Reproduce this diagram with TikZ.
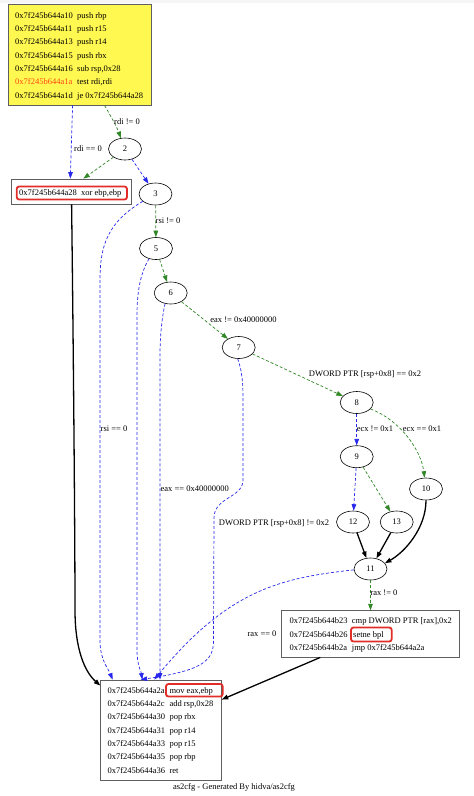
\documentclass[tikz,border=0pt]{standalone}
\usepackage{fontspec}
\setmainfont{Liberation Serif}
\usetikzlibrary{shapes.geometric,arrows.meta}
\definecolor{egreen}{RGB}{50,135,40}
\definecolor{eblue}{RGB}{40,40,235}
\definecolor{byellow}{RGB}{255,248,80}
\definecolor{hlred}{RGB}{225,45,40}
\definecolor{addrred}{RGB}{255,70,20}
\definecolor{boxgray}{RGB}{95,95,95}
\newcommand{\fs}{\fontsize{8.5}{10}\selectfont}
\begin{document}
\begin{tikzpicture}[x=1pt,y=-1pt,
  blk/.style={draw=boxgray,line width=0.8pt,inner sep=0pt},
  bb/.style={ellipse,draw,line width=0.6pt,minimum width=33pt,minimum height=22pt,inner sep=0pt,font=\fs},
  tl/.style={anchor=base west,inner sep=0pt,font=\fs},
  lbl/.style={inner sep=0pt,font=\fs},
  tip/.style={-{Triangle[length=6.5pt,width=4.6pt]}},
  ge/.style={tip,draw=egreen,line width=0.7pt,dash pattern=on 3pt off 2pt},
  be/.style={tip,draw=eblue,line width=0.7pt,dash pattern=on 3pt off 2pt},
  ke/.style={tip,draw=black,line width=1.3pt},
  hl/.style={draw=hlred,line width=1.8pt,rounded corners=2.5pt}
]
\useasboundingbox (0,0) rectangle (474,796);
\fill[gray!8] (0,0) rectangle (474,3);

% blocks
\node[blk,fill=byellow,minimum width=143pt,minimum height=101pt] (b0) at (79.5,54.5) {};
\node[blk,minimum width=120pt,minimum height=25pt] (bxor) at (71.7,191.5) {};
\node[blk,minimum width=177.3pt,minimum height=46.3pt] (brax) at (370.35,633.85) {};
\node[blk,minimum width=120.6pt,minimum height=100pt] (bend) at (161,730) {};

% block texts
\foreach \y/\a/\i [count=\k] in {15/0x7f245b644a10/push rbp,28.3/0x7f245b644a11/push r15,41.7/0x7f245b644a13/push r14,55/0x7f245b644a15/push rbx,68.3/0x7f245b644a16/{sub rsp,0x28}}{
  \node[tl] (b0a\k) at (15,\y+3) {\a};
  \node[tl] (b0i\k) at (77,\y+3) {\i};
}
\node[tl,text=addrred] (b0a6) at (15,84.7) {0x7f245b644a1a};
\node[tl] (b0i6) at (77,84.7) {test rdi,rdi};
\node[tl] (b0a7) at (15,98) {0x7f245b644a1d};
\node[tl] (b0i7) at (77,98) {je 0x7f245b644a28};

\draw[hl] (16.7,186.5) rectangle (127,199.5);
\node[tl] (bxa) at (19,195.5) {0x7f245b644a28};
\node[tl] (bxi) at (81,195.5) {xor ebp,ebp};

\draw[hl] (351,627.5) rectangle (391.7,641.5);
\node[tl] (bra1) at (289.3,623.7) {0x7f245b644b23};
\node[tl] (bri1) at (351.7,623.7) {cmp DWORD PTR [rax],0x2};
\node[tl] (bra2) at (289.3,637) {0x7f245b644b26};
\node[tl] (bri2) at (353,637) {setne bpl};
\node[tl] (bra3) at (289.3,650.3) {0x7f245b644b2a};
\node[tl] (bri3) at (351.7,650.3) {jmp 0x7f245b644a2a};

\draw[hl] (166,684) rectangle (222.7,696.5);
\foreach \y/\a/\i [count=\k] in {690/0x7f245b644a2a/{mov eax,ebp},703.3/0x7f245b644a2c/{add rsp,0x28},716.7/0x7f245b644a30/pop rbx,730/0x7f245b644a31/pop r14,743.3/0x7f245b644a33/pop r15,756.7/0x7f245b644a35/pop rbp,770/0x7f245b644a36/ret}{
  \node[tl] (bea\k) at (107.3,\y+3) {\a};
  \node[tl] (bei\k) at (169.3,\y+3) {\i};
}

% ellipse nodes
\node[bb] (n2) at (125,149) {2};
\node[bb] (n3) at (155.5,194) {3};
\node[bb] (n5) at (156,248.5) {5};
\node[bb] (n6) at (170.7,293) {6};
\node[bb] (n7) at (238.7,347.5) {7};
\node[bb] (n8) at (356.7,402.5) {8};
\node[bb] (n9) at (356.7,456.7) {9};
\node[bb] (n10) at (426,489) {10};
\node[bb] (n12) at (353,522) {12};
\node[bb] (n13) at (396.7,522) {13};
\node[bb] (n11) at (370.5,569) {11};

% edges
\draw[be] ([xshift=65pt]b0.south west) -- ([xshift=59pt]bxor.north west);
\draw[ge] ([xshift=97pt]b0.south west) .. controls (110,115) and (116,125) .. (n2);
\draw[ge] (n2) -- ([xshift=72pt]bxor.north west);
\draw[be] (n2) -- (n3);
\draw[ge] (n3) -- (n5);
\draw[be] (n3.210) .. controls (108,222) and (100,245) .. (100,280) -- (100,640) .. controls (100,660) and (108,668) .. ([xshift=12.3pt]bend.north west);
\draw[ge] (n5) -- (n6);
\draw[be] (n5.236) .. controls (141,272) and (137,290) .. (137,315) -- (137,650) .. controls (137,665) and (141,671) .. ([xshift=42pt]bend.north west);
\draw[be] (n6.242) .. controls (162,318) and (160,335) .. (160,355) -- ([xshift=-1pt]bend.north);
\draw[ge] (n6) -- (n7);
\draw[ge] (n7) -- (n8);
\draw[be] (n7.265) .. controls (242.5,372) and (243,385) .. (243,400) -- (243,480) .. controls (243,498) and (214,497) .. (214,518) -- (213.5,640) .. controls (213.5,660) and (205,670) .. ([xshift=40.3pt]bend.north west);
\draw[be] (n8) -- (n9);
\draw[ge] (n8.-25) .. controls (400,420) and (421,450) .. (n10.97);
\draw[be] (n9) -- (n12);
\draw[ge] (n9) -- (n13);
\draw[ke] (n12) -- (n11);
\draw[ke] (n13) -- (n11);
\draw[ke] (n10.-90) .. controls (426,528) and (405,552) .. (n11.22);
\draw[ge] (n11) -- (n11 |- brax.north);
\draw[be] (n11.183) .. controls (280,578) and (228,590) .. ([xshift=54pt]bend.north west);
\draw[ke] ([xshift=39pt]brax.south west) -- ([yshift=-20pt]bend.north east);
\draw[ke] ([xshift=60.3pt]bxor.south west) .. controls (74,400) and (75,560) .. (75,610) .. controls (75,650) and (85,672) .. ([yshift=-6pt]bend.north west);

% edge labels
\node[lbl] (l1) at (88,149) {rdi == 0};
\node[lbl] (l2) at (127,122) {rdi != 0};
\node[lbl] (l3) at (168,221) {rsi != 0};
\node[lbl] (l4) at (114,429) {rsi == 0};
\node[lbl,anchor=west] (l5) at (160.5,489) {eax == 0x40000000};
\node[lbl] (l6) at (243.5,320) {eax != 0x40000000};
\node[lbl] (l7) at (365,374) {DWORD PTR [rsp+0x8] == 0x2};
\node[lbl] (l8) at (274,523) {DWORD PTR [rsp+0x8] != 0x2};
\node[lbl] (l9) at (375,429) {ecx != 0x1};
\node[lbl] (l10) at (422,429) {ecx == 0x1};
\node[lbl] (l11) at (384,593) {rax != 0};
\node[lbl] (l12) at (262,634) {rax == 0};

\node[lbl] (footer) at (234,787) {as2cfg - Generated By hidva/as2cfg};
\end{tikzpicture}
\end{document}
